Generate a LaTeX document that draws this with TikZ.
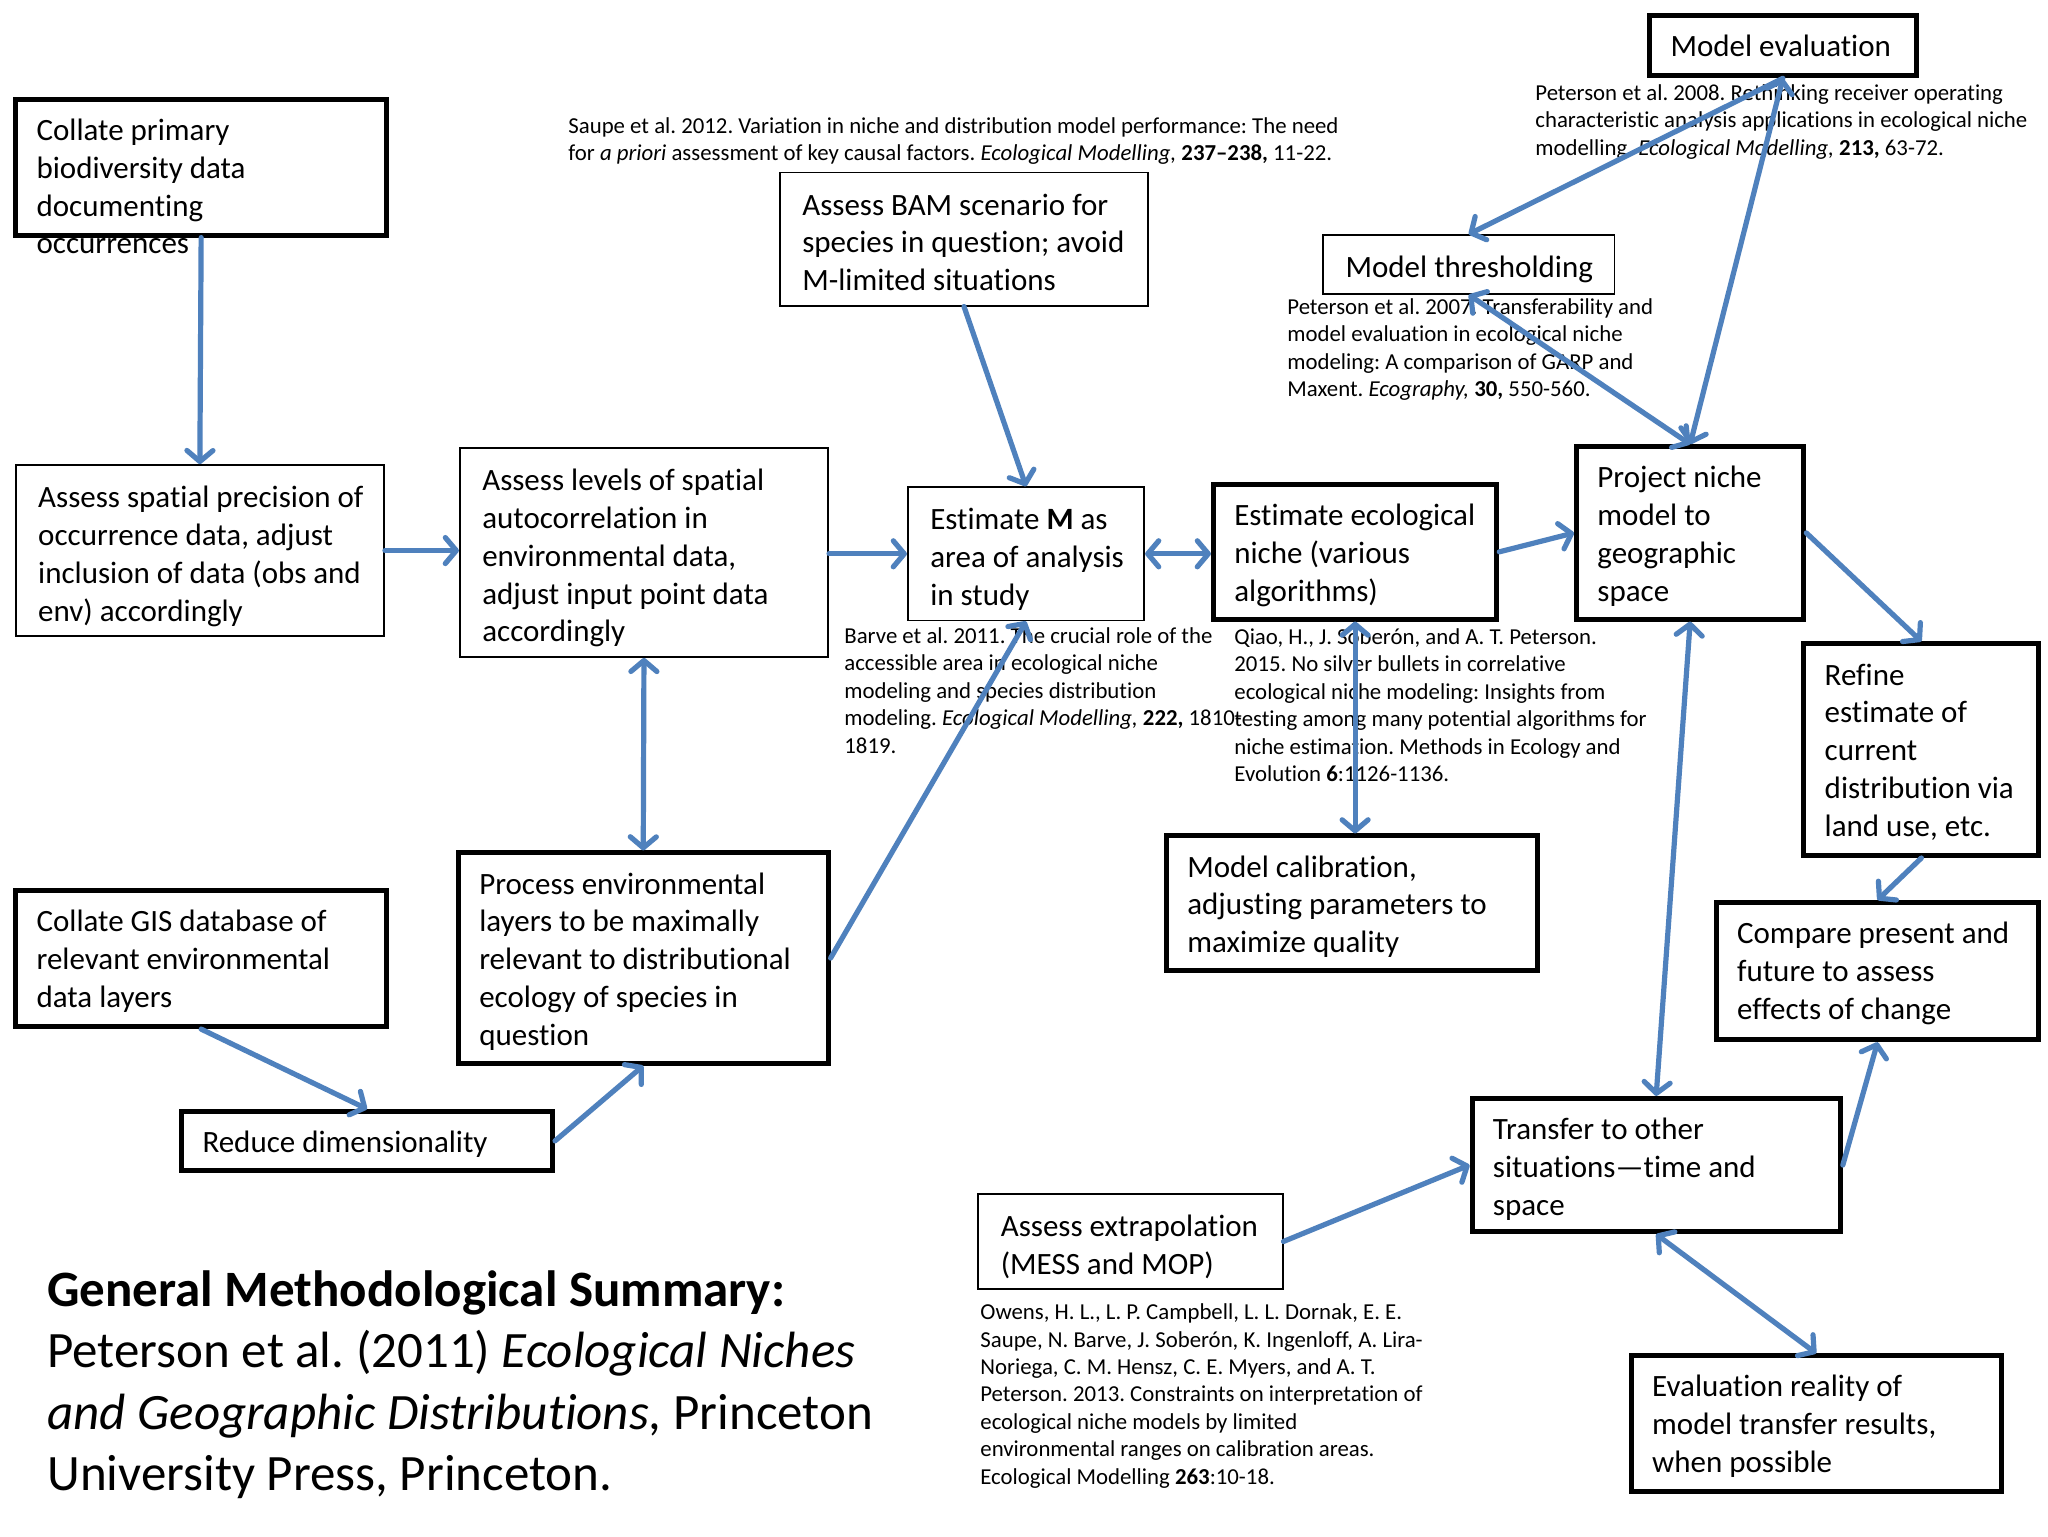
\documentclass[tikz,border=0pt]{standalone}
\usepackage{fontspec}
\setmainfont{Carlito}[Ligatures={NoCommon,NoContextual,NoRare}, Contextuals=NoAlternate]
\frenchspacing
\usetikzlibrary{arrows.meta,fit,calc}
\definecolor{arrowblue}{HTML}{4F81BD}
\tikzset{
  thickbox/.style={draw=black, line width=2.5pt, fill=white, inner sep=0pt},
  thinbox/.style={draw=black, line width=0.9pt, fill=white, inner sep=0pt},
  boxtext/.style={inner sep=0pt, align=left, anchor=north west, font=\fontsize{15.5pt}{18.9pt}\selectfont},
  reftext/.style={inner sep=0pt, align=left, anchor=north west, font=\fontsize{11.4pt}{13.7pt}\selectfont},
  titletext/.style={inner sep=0pt, align=left, anchor=north west, font=\fontsize{25.5pt}{30.7pt}\selectfont},
  barb/.tip={Straight Barb[length=5.5pt,width=13pt,round]},
  flow/.style={draw=arrowblue, line width=2.6pt, line cap=round, -barb},
  flowtwo/.style={draw=arrowblue, line width=2.6pt, line cap=round, barb-barb},
}
\newcommand{\tx}[2]{\node[boxtext] (#1-t) at ([xshift=11.5pt,yshift=-8.4pt]#1.north west) {\strut #2};}
\begin{document}
\begin{tikzpicture}[x=0.5pt,y=-0.5pt]
\fill[white] (0,0) rectangle (2048,1536);
\useasboundingbox (0,0) rectangle (2048,1536);

% boxes
\node[thickbox, fit={(15.7,99.3) (386.6,235.1)}] (collate) {};
\node[thinbox,  fit={(15.7,465.0) (384.0,636.1)}] (spatial) {};
\node[thinbox,  fit={(459.8,448.0) (828.1,657.0)}] (autocorr) {};
\node[thinbox,  fit={(779.8,172.4) (1148.1,305.6)}] (bam) {};
\node[thinbox,  fit={(907.8,487.2) (1144.2,620.4)}] (estM) {};
\node[thickbox, fit={(1213.4,484.6) (1496.8,619.1)}] (niche) {};
\node[thickbox, fit={(1576.5,446.7) (1803.8,619.1)}] (project) {};
\node[thickbox, fit={(1649.6,15.7) (1916.1,75.8)}] (eval) {};
\node[thinbox,  fit={(1323.1,235.1) (1614.4,293.9)}] (thresh) {};
\node[thickbox, fit={(1803.8,643.9) (2038.9,855.5)}] (refine) {};
\node[thickbox, fit={(1716.2,902.5) (2038.9,1039.7)}] (compare) {};
\node[thickbox, fit={(1166.4,835.9) (1537.3,970.5)}] (calib) {};
\node[thickbox, fit={(15.7,890.8) (386.6,1026.6)}] (gis) {};
\node[thickbox, fit={(458.4,852.9) (828.1,1063.2)}] (process) {};
\node[thickbox, fit={(181.6,1111.5) (552.5,1170.3)}] (reduce) {};
\node[thickbox, fit={(1472.0,1098.4) (1840.3,1231.7)}] (transfer) {};
\node[thinbox,  fit={(978.3,1193.8) (1282.6,1289.1)}] (extrap) {};
\node[thickbox, fit={(1631.3,1355.8) (2001.0,1491.6)}] (evalreal) {};

% box texts
\tx{collate}{Collate primary\\biodiversity data\\documenting\\occurrences}
\tx{spatial}{Assess spatial precision of\\occurrence data, adjust\\inclusion of data (obs and\\env) accordingly}
\tx{autocorr}{Assess levels of spatial\\autocorrelation in\\environmental data,\\adjust input point data\\accordingly}
\tx{bam}{Assess BAM scenario for\\species in question; avoid\\M-limited situations}
\tx{estM}{Estimate \textbf{M} as\\area of analysis\\in study}
\tx{niche}{Estimate ecological\\niche (various\\algorithms)}
\tx{project}{Project niche\\model to\\geographic\\space}
\tx{eval}{Model evaluation}
\tx{thresh}{Model thresholding}
\tx{refine}{Refine\\estimate of\\current\\distribution via\\land use, etc.}
\tx{compare}{Compare present and\\future to assess\\effects of change}
\tx{calib}{Model calibration,\\adjusting parameters to\\maximize quality}
\tx{gis}{Collate GIS database of\\relevant environmental\\data layers}
\tx{process}{Process environmental\\layers to be maximally\\relevant to distributional\\ecology of species in\\question}
\tx{reduce}{Reduce dimensionality}
\tx{transfer}{Transfer to other\\situations—time and\\space}
\tx{extrap}{Assess extrapolation\\(MESS and MOP)}
\tx{evalreal}{Evaluation reality of\\model transfer results,\\when possible}

% references
\node[reftext] (saupe) at (568,114) {\strut Saupe et al. 2012. Variation in niche and distribution model performance: The need\\for \textit{a priori} assessment of key causal factors. \textit{Ecological Modelling,} \textbf{237–238,} 11-22.};
\node[reftext] (pet08) at (1535,81) {\strut Peterson et al. 2008. Rethinking receiver operating\\characteristic analysis applications in ecological niche\\modelling. \textit{Ecological Modelling,} \textbf{213,} 63-72.};
\node[reftext] (pet07) at (1287,295) {\strut Peterson et al. 2007. Transferability and\\model evaluation in ecological niche\\modeling: A comparison of GARP and\\Maxent. \textit{Ecography,} \textbf{30,} 550-560.};
\node[reftext] (barve) at (844,624) {\strut Barve et al. 2011. The crucial role of the\\accessible area in ecological niche\\modeling and species distribution\\modeling. \textit{Ecological Modelling,} \textbf{222,} 1810-\\1819.};
\node[reftext] (qiao) at (1234,625) {\strut Qiao, H., J. Soberón, and A. T. Peterson.\\2015. No silver bullets in correlative\\ecological niche modeling: Insights from\\testing among many potential algorithms for\\niche estimation. Methods in Ecology and\\Evolution \textbf{6}:1126-1136.};
\node[reftext] (owens) at (980,1300) {\strut Owens, H. L., L. P. Campbell, L. L. Dornak, E. E.\\Saupe, N. Barve, J. Soberón, K. Ingenloff, A. Lira-\\Noriega, C. M. Hensz, C. E. Myers, and A. T.\\Peterson. 2013. Constraints on interpretation of\\ecological niche models by limited\\environmental ranges on calibration areas.\\Ecological Modelling \textbf{263}:10-18.};

% title
\node[titletext] (title) at (47,1263) {\strut\textbf{General Methodological Summary:}\\Peterson et al. (2011) \textit{Ecological Niches}\\\textit{and Geographic Distributions,} Princeton\\University Press, Princeton.};

% connectors
\draw[flow] (collate.south) -- (spatial.north);
\draw[flow] (spatial.east) -- (spatial.east -| autocorr.west);
\draw[flow] (estM.west -| autocorr.east) -- (estM.west);
\draw[flow] (bam.south) -- (estM.north);
\draw[flowtwo] (estM.east) -- (estM.east -| niche.west);
\draw[flow] (niche.east) -- (project.west);
\draw[flowtwo] (autocorr.south) -- (process.north);
\draw[flow] (process.east) -- (estM.south);
\draw[flow] (gis.south) -- (reduce.north);
\draw[flow] (reduce.east) -- (process.south);
\draw[flowtwo] (niche.south) -- (niche.south |- calib.north);
\draw[flowtwo] (project.north) -- (eval.south);
\draw[flow] (eval.south) -- (thresh.north);
\draw[flowtwo] (project.north) -- (thresh.south);
\draw[flow] (project.east) -- (refine.north);
\draw[flow] (refine.south) -- (compare.north);
\draw[flow] (transfer.east) -- (compare.south);
\draw[flowtwo] (project.south) -- (transfer.north);
\draw[flow] (extrap.east) -- (transfer.west);
\draw[flowtwo] (transfer.south) -- (evalreal.north);
\end{tikzpicture}
\end{document}
